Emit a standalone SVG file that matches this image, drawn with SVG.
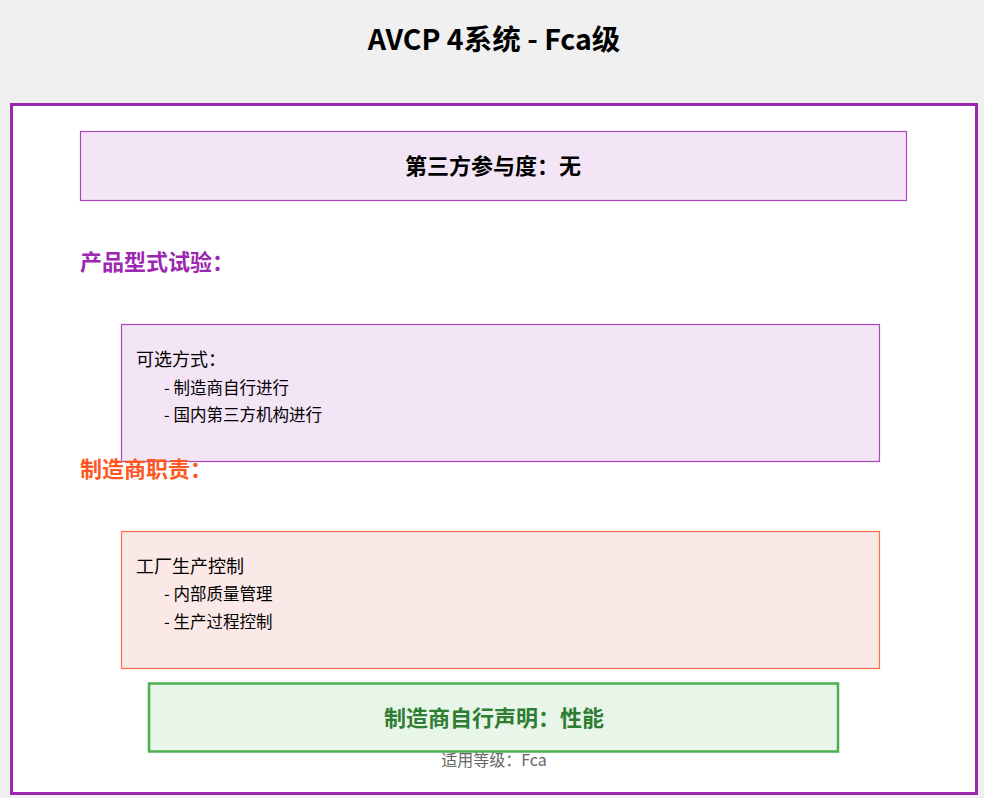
<svg xmlns="http://www.w3.org/2000/svg" width="984" height="798" viewBox="0 0 984 798">
<style>
text{font-family:"Noto Sans CJK SC","Liberation Sans",sans-serif}
.h{font-size:22px;font-weight:bold}
.c{text-anchor:middle}
.b{font-size:18px;fill:#000}
.s{font-size:16.5px;fill:#000}
</style>
<rect x="0" y="0" width="984" height="798" fill="#f0f0f0"/>
<text class="c" x="494" y="50" font-size="28.5" font-weight="bold" fill="#000">AVCP 4系统 - Fca级</text>
<g id="frame"><rect x="11.5" y="104.5" width="965" height="689" fill="#fff" stroke="#9c27b0" stroke-width="3"/></g>
<g id="third-party"><rect x="80.5" y="131.5" width="826" height="69" fill="#f3e5f5" stroke="#ab47bc" stroke-width="1.2"/>
<text class="h c" x="493" y="174" fill="#000">第三方参与度：无</text></g>
<g id="type-test-label"><text class="h" x="80" y="270" fill="#9c27b0">产品型式试验：</text></g>
<g id="type-test"><rect x="121.5" y="324.5" width="758" height="137" fill="#f3e5f5" stroke="#ab47bc" stroke-width="1.2"/>
<text class="b" x="136" y="366">可选方式：</text>
<text class="s" x="164" y="394">- 制造商自行进行</text>
<text class="s" x="164" y="421">- 国内第三方机构进行</text></g>
<g id="manufacturer-label"><text class="h" x="80" y="477" fill="#ff5722">制造商职责：</text></g>
<g id="fpc"><rect x="121.5" y="531.5" width="758" height="137" fill="#fbe9e7" stroke="#ff7043" stroke-width="1.2"/>
<text class="b" x="136" y="573">工厂生产控制</text>
<text class="s" x="164" y="600">- 内部质量管理</text>
<text class="s" x="164" y="628">- 生产过程控制</text></g>
<g id="declaration"><rect x="149" y="683.5" width="689" height="68" fill="#e8f5e9" stroke="#4caf50" stroke-width="2.5"/>
<text class="h c" x="494" y="726" fill="#2e7d32">制造商自行声明：性能</text></g>
<g id="connectors"></g>
<text class="c" x="494" y="766" font-size="16" fill="#666">适用等级：Fca</text>
</svg>
